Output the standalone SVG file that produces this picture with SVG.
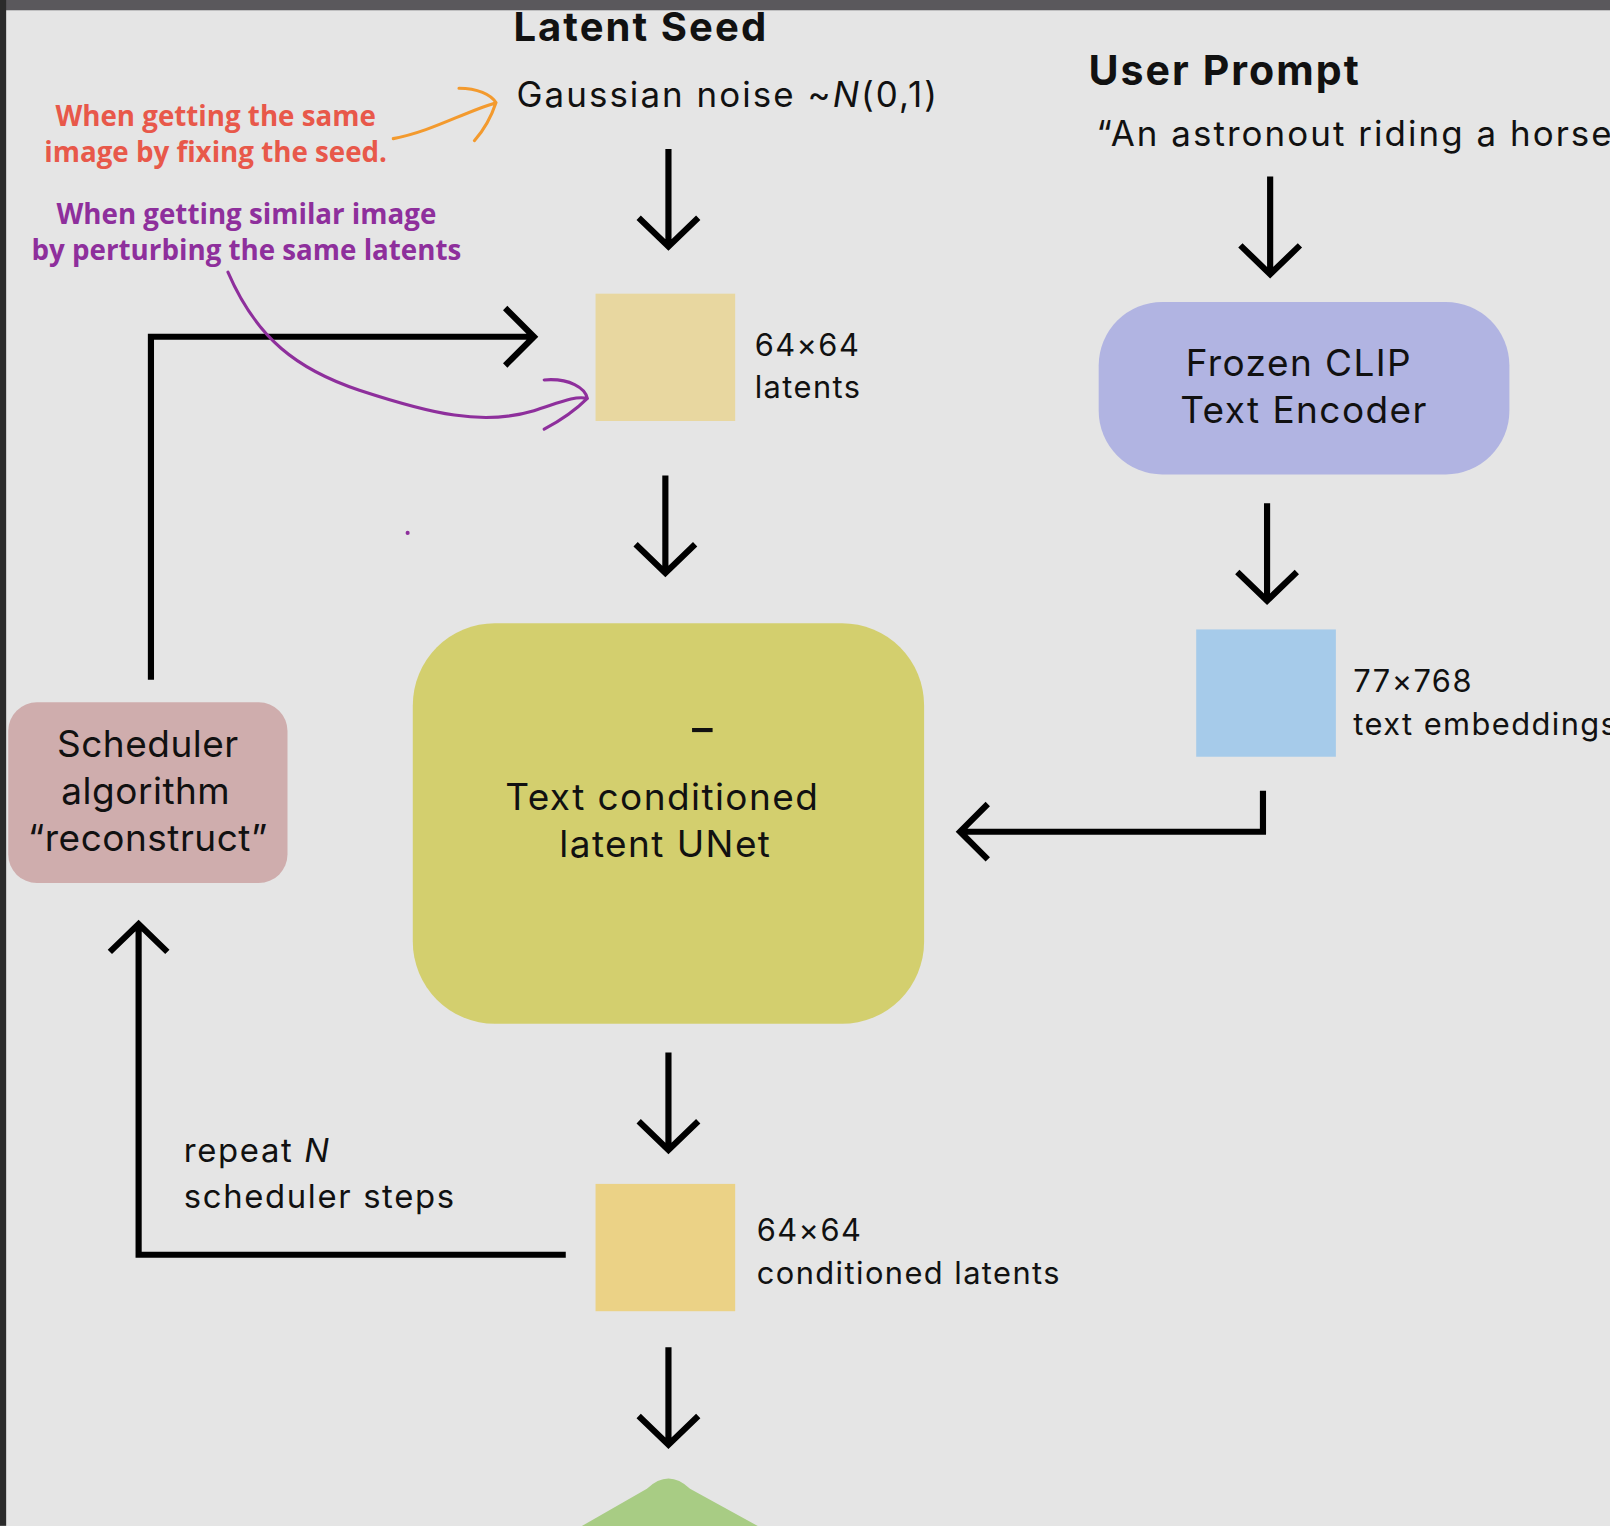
<svg xmlns="http://www.w3.org/2000/svg" width="1610" height="1526" viewBox="0 0 1610 1526">
<style>
.t{font-family:Inter,"Liberation Sans",sans-serif;fill:#111;letter-spacing:1.4px}
.b{font-weight:bold}
.w{letter-spacing:2px}
.c{stroke:#000;stroke-width:6;fill:none}
.an{font-family:"Open Sans","Liberation Sans",sans-serif;font-weight:bold;font-size:27px;text-anchor:middle}
</style>
<rect width="1610" height="1526" fill="#e5e5e5"/>
<g transform="scale(1.0268)">
<rect x="0" y="0" width="1568" height="10" fill="#5a585c"/>
<rect x="0" y="0" width="6" height="1486" fill="#2b2b2b"/>
<g id="seed">
<text class="t b w" x="500" y="40" font-size="39">Latent Seed</text>
<text class="t w" x="503" y="104" font-size="34">Gaussian noise ~<tspan font-style="italic">N</tspan>(0,1)</text>
</g>
<g id="prompt">
<text class="t b w" x="1060" y="83" font-size="40">User Prompt</text>
<text class="t w" x="1068" y="142" font-size="34">“An astronout riding a horse</text>
</g>
<g id="latents">
<rect x="580" y="286" width="136" height="124" fill="#e8d7a0"/>
<text class="t" x="735" y="347" font-size="30">64×64</text>
<text class="t" x="735" y="388" font-size="30">latents</text>
</g>
<g id="clip">
<rect x="1070" y="294" width="400" height="168" rx="62" fill="#b1b4e2"/>
<text class="t" x="1265" y="366" font-size="36" text-anchor="middle">Frozen CLIP</text>
<text class="t" x="1270" y="412" font-size="36" text-anchor="middle">Text Encoder</text>
</g>
<g id="emb">
<rect x="1165" y="613" width="136" height="124" fill="#a6cbea"/>
<text class="t" x="1318" y="674" font-size="30">77×768</text>
<text class="t" x="1318" y="716" font-size="30">text embeddings</text>
</g>
<g id="unet">
<rect x="402" y="607" width="498" height="390" rx="80" fill="#d3cf6e"/>
<rect x="674" y="709" width="20" height="4" fill="#111"/>
<text class="t" x="645" y="789" font-size="36" text-anchor="middle">Text conditioned</text>
<text class="t" x="648" y="835" font-size="36" text-anchor="middle">latent UNet</text>
</g>
<g id="scheduler">
<rect x="8" y="684" width="272" height="176" rx="28" fill="#cfadad"/>
<text class="t" x="144" y="737" font-size="36" text-anchor="middle" style="letter-spacing:0.5px">Scheduler</text>
<text class="t" x="142" y="783" font-size="36" text-anchor="middle" style="letter-spacing:0.5px">algorithm</text>
<text class="t" x="144" y="829" font-size="36" text-anchor="middle" style="letter-spacing:0.5px">“reconstruct”</text>
</g>
<g id="cond">
<rect x="580" y="1153" width="136" height="124" fill="#ebd286"/>
<text class="t" x="737" y="1209" font-size="30">64×64</text>
<text class="t" x="737" y="1250" font-size="30">conditioned latents</text>
</g>
<g id="decoder">
<path d="M560,1490 L630,1450 Q651,1430 672,1450 L745,1490 Z" fill="#a8cc84"/>
</g>
<g id="loopLabel">
<text class="t" x="179" y="1132" font-size="32" style="letter-spacing:1.6px">repeat <tspan font-style="italic">N</tspan></text>
<text class="t" x="179" y="1176" font-size="32" style="letter-spacing:1.6px">scheduler steps</text>
</g>
<g id="notes">
<text class="an" x="210" y="123" fill="#e8584a">When getting the same</text>
<text class="an" x="210" y="158" fill="#e8584a">image by fixing the seed.</text>
<text class="an" x="240" y="218" fill="#8e2f9c">When getting similar image</text>
<text class="an" x="240" y="253" fill="#8e2f9c">by perturbing the same latents</text>
<circle cx="397" cy="519" r="2" fill="#8e2f9c"/>
</g>
<g id="connectors">
<path class="c" d="M651,145V240M622,212L651,240L680,212"/>
<path class="c" d="M1237,172V267M1208,239L1237,267L1266,239"/>
<path class="c" d="M648,463V558M619,530L648,558L677,530"/>
<path class="c" d="M1234,490V585M1205,557L1234,585L1263,557"/>
<path class="c" d="M1230,770V810H935M962,783L935,810L962,837"/>
<path class="c" d="M147,662V328H520M492,300L520,328L492,356"/>
<path class="c" d="M651,1025V1120M622,1092L651,1120L680,1092"/>
<path class="c" d="M551,1222H135V900M107,927L135,900L163,927"/>
<path class="c" d="M651,1312V1407M622,1379L651,1407L680,1379"/>
<path d="M383,135C420,128 450,110 483,100M447,86C465,86 478,92 483,100C478,115 470,128 462,137" stroke="#f39a2e" stroke-width="3" fill="none" stroke-linecap="round"/>
<path d="M222,265C250,330 290,360 350,380C420,403 470,415 520,400C545,392 560,385 572,388M530,370C555,368 570,378 572,388C560,400 545,410 530,418" stroke="#8e2f9c" stroke-width="3" fill="none" stroke-linecap="round"/>
</g>
</g>
</svg>
